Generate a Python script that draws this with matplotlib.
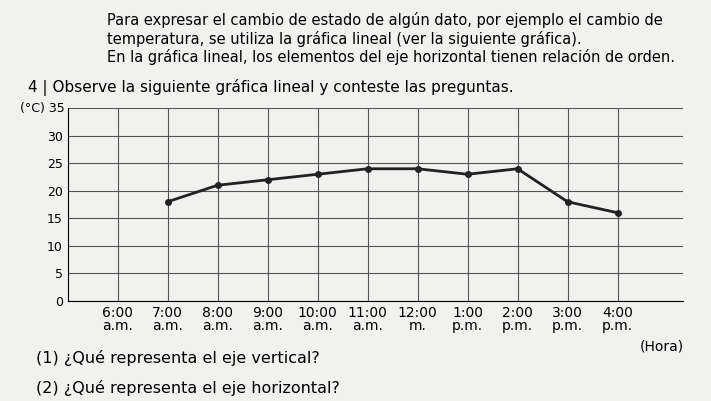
import matplotlib
matplotlib.use("Agg")
import matplotlib.pyplot as plt
import numpy as np

hours = ["6:00\na.m.", "7:00\na.m.", "8:00\na.m.", "9:00\na.m.", "10:00\na.m.", "11:00\na.m.",
         "12:00\nm.", "1:00\np.m.", "2:00\np.m.", "3:00\np.m.", "4:00\np.m."]
temps = [np.nan, 18, 21, 22, 23, 24, 24, 23, 24, 18, 16]
yticks = [0, 5, 10, 15, 20, 25, 30, 35]

fig = plt.figure(figsize=(7.11, 4.01), dpi=100)
fig.patch.set_facecolor("#f1f1ef")
ax = fig.add_axes([0.095, 0.25, 0.865, 0.48])
ax.set_facecolor("#f1f1ef")
x = np.arange(len(hours))
ax.plot(x, temps, color="#222222", lw=2, marker="o", ms=4)
ax.set_xlim(-1, 11.3)
ax.set_ylim(0, 35)
ax.set_yticks(yticks)
ax.set_yticklabels([str(v) for v in yticks[:-1]] + [""], fontsize=9)
ax.set_xticks(x)
ax.set_xticklabels(hours, fontsize=10, linespacing=0.9)
ax.grid(True, color="#555555", lw=0.8)
for s in ["top", "right"]:
    ax.spines[s].set_visible(False)
ax.tick_params(length=0)
ax.text(-0.005, 1.0, "(°C) 35", transform=ax.transAxes, ha="right", va="center", fontsize=9)
ax.text(10.45, -0.2, "(Hora)", transform=ax.get_xaxis_transform(), fontsize=10, va="top")

fig.text(0.15, 0.97, "Para expresar el cambio de estado de algún dato, por ejemplo el cambio de\n"
         "temperatura, se utiliza la gráfica lineal (ver la siguiente gráfica).\n"
         "En la gráfica lineal, los elementos del eje horizontal tienen relación de orden.",
         fontsize=10.5, va="top")
fig.text(0.04, 0.77, "4 | Observe la siguiente gráfica lineal y conteste las preguntas.", fontsize=11)
fig.text(0.05, 0.095, "(1) ¿Qué representa el eje vertical?", fontsize=11.5)
fig.text(0.05, 0.02, "(2) ¿Qué representa el eje horizontal?", fontsize=11.5)
fig.savefig("out.png", dpi=100)
